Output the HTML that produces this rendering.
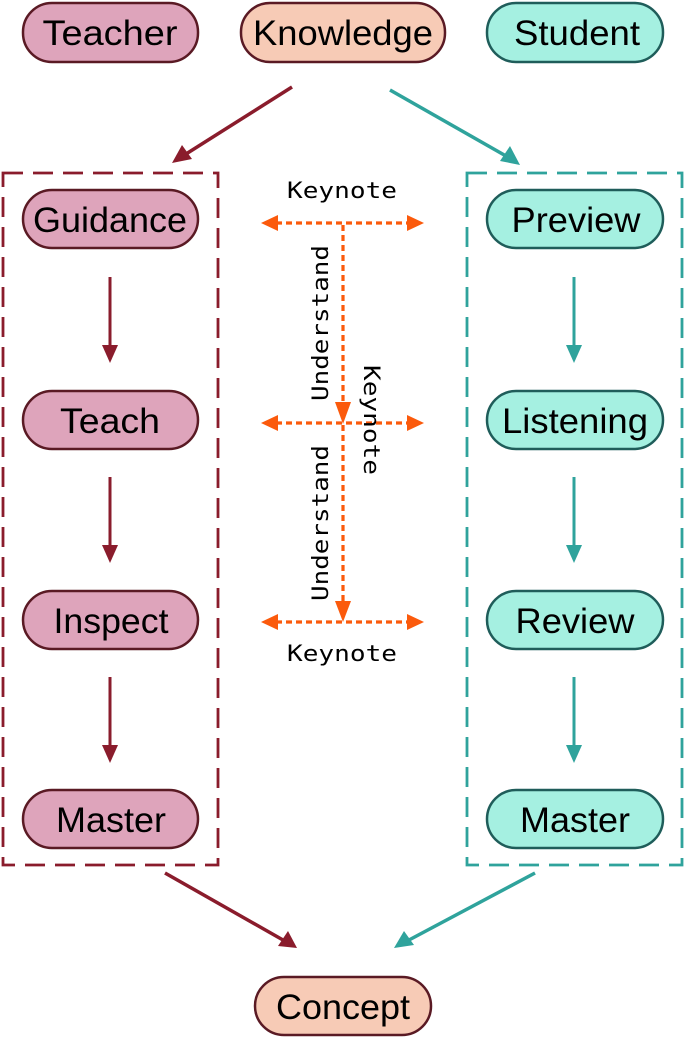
<!DOCTYPE html>
<html><head><meta charset="utf-8"><style>html,body{margin:0;padding:0;background:#fff}svg{display:block}</style></head>
<body>
<svg width="685" height="1039" viewBox="0 0 685 1039" xmlns="http://www.w3.org/2000/svg">
<g font-family="Liberation Sans, Arial, sans-serif" font-size="35" text-anchor="middle">
<rect x="3" y="173" width="215" height="692" fill="none" stroke="#8a1c2c" stroke-width="2.8" stroke-dasharray="20,10"/>
<rect x="467" y="173" width="215" height="692" fill="none" stroke="#2fa39c" stroke-width="2.8" stroke-dasharray="20,10"/>

<rect x="23" y="3" width="175" height="59" rx="29" fill="#dea4bb" stroke="#5a1a24" stroke-width="2.5"/>
<text x="110" y="45" textLength="135" lengthAdjust="spacingAndGlyphs">Teacher</text>
<rect x="241" y="3" width="204" height="59" rx="29" fill="#f7cbb6" stroke="#5a1a24" stroke-width="2.5"/>
<text x="343" y="45" textLength="180" lengthAdjust="spacingAndGlyphs">Knowledge</text>
<rect x="487" y="3" width="176" height="59" rx="29" fill="#a5f0e1" stroke="#1f5d5a" stroke-width="2.5"/>
<text x="577" y="45" textLength="126" lengthAdjust="spacingAndGlyphs">Student</text>

<g fill="#dea4bb" stroke="#5a1a24" stroke-width="2.5">
<rect x="23" y="190" width="175" height="58" rx="29"/>
<rect x="23" y="391" width="175" height="58" rx="29"/>
<rect x="23" y="591" width="175" height="58" rx="29"/>
<rect x="23" y="790" width="175" height="58" rx="29"/>
</g>
<g fill="#a5f0e1" stroke="#1f5d5a" stroke-width="2.5">
<rect x="487" y="190" width="176" height="58" rx="29"/>
<rect x="487" y="391" width="176" height="58" rx="29"/>
<rect x="487" y="591" width="176" height="58" rx="29"/>
<rect x="487" y="790" width="176" height="58" rx="29"/>
</g>
<text x="110" y="232" textLength="154" lengthAdjust="spacingAndGlyphs">Guidance</text>
<text x="110" y="433" textLength="100" lengthAdjust="spacingAndGlyphs">Teach</text>
<text x="111" y="633" textLength="115" lengthAdjust="spacingAndGlyphs">Inspect</text>
<text x="111" y="832" textLength="110" lengthAdjust="spacingAndGlyphs">Master</text>
<text x="576" y="232" textLength="129" lengthAdjust="spacingAndGlyphs">Preview</text>
<text x="575" y="433" textLength="146" lengthAdjust="spacingAndGlyphs">Listening</text>
<text x="575" y="633" textLength="119" lengthAdjust="spacingAndGlyphs">Review</text>
<text x="575" y="832" textLength="110" lengthAdjust="spacingAndGlyphs">Master</text>

<rect x="255" y="977" width="176" height="58" rx="29" fill="#f7cbb6" stroke="#5a1a24" stroke-width="2.5"/>
<text x="343" y="1019" textLength="134" lengthAdjust="spacingAndGlyphs">Concept</text>
</g>

<g stroke-width="3.5" fill="none">
<line x1="292" y1="87" x2="186" y2="154" stroke="#8a1c2c"/>
<line x1="390" y1="90" x2="506" y2="156" stroke="#2fa39c"/>
<line x1="165" y1="873" x2="283" y2="940" stroke="#8a1c2c"/>
<line x1="535" y1="873" x2="409" y2="940" stroke="#2fa39c"/>
</g>
<polygon points="172,163 182,145 192,159" fill="#8a1c2c"/>
<polygon points="520,165 500,161 510,146" fill="#2fa39c"/>
<polygon points="297,948 278,946 288,931" fill="#8a1c2c"/>
<polygon points="394,948 404,931 414,945" fill="#2fa39c"/>

<g stroke-width="3">
<line x1="110" y1="277" x2="110" y2="348" stroke="#8a1c2c"/>
<line x1="110" y1="477" x2="110" y2="548" stroke="#8a1c2c"/>
<line x1="110" y1="677" x2="110" y2="748" stroke="#8a1c2c"/>
<line x1="574" y1="277" x2="574" y2="348" stroke="#2fa39c"/>
<line x1="574" y1="477" x2="574" y2="548" stroke="#2fa39c"/>
<line x1="574" y1="677" x2="574" y2="748" stroke="#2fa39c"/>
</g>
<g fill="#8a1c2c">
<polygon points="102,345 118,345 110,363"/>
<polygon points="102,545 118,545 110,563"/>
<polygon points="102,745 118,745 110,763"/>
</g>
<g fill="#2fa39c">
<polygon points="566,345 582,345 574,363"/>
<polygon points="566,545 582,545 574,563"/>
<polygon points="566,745 582,745 574,763"/>
</g>

<g stroke="#fb5a0c" stroke-width="3.2" stroke-dasharray="6,4" fill="none">
<line x1="276" y1="223" x2="410" y2="223"/>
<line x1="276" y1="423" x2="410" y2="423"/>
<line x1="276" y1="622" x2="410" y2="622"/>
<line x1="343" y1="225" x2="343" y2="404"/>
<line x1="343" y1="425" x2="343" y2="604"/>
</g>
<g fill="#fb5a0c">
<polygon points="261,223 278,215 278,231"/>
<polygon points="424,223 407,215 407,231"/>
<polygon points="261,423 278,415 278,431"/>
<polygon points="424,423 407,415 407,431"/>
<polygon points="261,622 278,614 278,630"/>
<polygon points="424,622 407,614 407,630"/>
<polygon points="335,402 351,402 343,424"/>
<polygon points="335,601 351,601 343,622"/>
</g>

<g font-family="DejaVu Sans Mono, Liberation Mono, monospace" font-size="22" fill="#000">
<text x="342" y="198" text-anchor="middle" textLength="110" lengthAdjust="spacingAndGlyphs">Keynote</text>
<text x="342" y="661" text-anchor="middle" textLength="110" lengthAdjust="spacingAndGlyphs">Keynote</text>
<text transform="translate(328,323) rotate(-90)" text-anchor="middle" textLength="156" lengthAdjust="spacingAndGlyphs">Understand</text>
<text transform="translate(328,523) rotate(-90)" text-anchor="middle" textLength="156" lengthAdjust="spacingAndGlyphs">Understand</text>
<text transform="translate(364,420) rotate(90)" text-anchor="middle" textLength="110" lengthAdjust="spacingAndGlyphs">Keynote</text>
</g>
</svg>
</body></html>
